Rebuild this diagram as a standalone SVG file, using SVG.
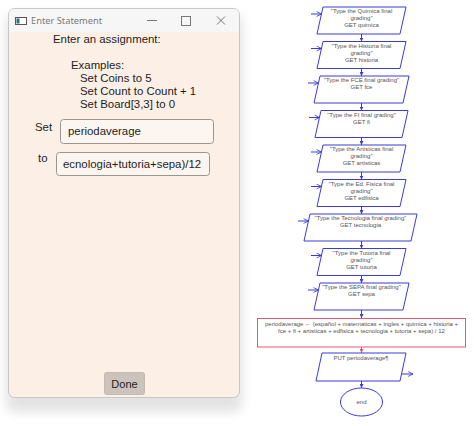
<svg xmlns="http://www.w3.org/2000/svg" width="474" height="426" viewBox="0 0 474 426">
<defs>
<style>
.ui{font-family:"Liberation Sans",Arial,sans-serif;fill:#1e1e1e;font-size:11.4px}
.fc{font-family:"Liberation Sans",Arial,sans-serif;font-size:6px;fill:#555;text-anchor:middle}
.para{fill:#fff;stroke:#3b3bd9;stroke-width:1}
.conn{stroke:#3b3bd9;stroke-width:1;fill:none}
.sel{stroke:#e8566c;stroke-width:1;fill:none}
.inp{fill:#fcf5f0;stroke:#9a9590;stroke-width:1}
</style>
<marker id="ah" viewBox="0 0 6 6" refX="6" refY="3" markerWidth="4" markerHeight="4" orient="auto">
<path d="M0,0 L6,3 L0,6 z" fill="#3b3bd9"/>
</marker>
<marker id="ahr" viewBox="0 0 6 6" refX="6" refY="3" markerWidth="4" markerHeight="4" orient="auto">
<path d="M0,0 L6,3 L0,6 z" fill="#e8566c"/>
</marker>
<marker id="open" viewBox="0 0 8 8" refX="7.5" refY="4" markerWidth="6" markerHeight="6" orient="auto" markerUnits="userSpaceOnUse">
<path d="M1,0.8 L7.5,4 L1,7.2" fill="none" stroke="#3b3bd9" stroke-width="1.1"/>
</marker>
<filter id="shadow" x="-20%" y="-20%" width="140%" height="140%">
<feGaussianBlur stdDeviation="6"/>
</filter>
</defs>
<rect width="474" height="426" fill="#fff"/>

<g id="dialog">
<rect x="6" y="14" width="236" height="398" rx="8" fill="#000" opacity="0.11" filter="url(#shadow)"/>
<rect x="8.5" y="8.5" width="231" height="389" rx="6" fill="#fbefe6" stroke="#c9c5c2"/>
<path d="M9,32 V14.5 Q9,9 14.5,9 H233.5 Q239,9 239,14.5 V32 Z" fill="#f6f6f6"/>
<rect x="15.5" y="17.5" width="11" height="7" fill="#fff" stroke="#555" stroke-width="1"/>
<rect x="16.5" y="18.5" width="3" height="5" fill="#2f6f8f"/>
<text x="31" y="24" style="font-family:'Noto Sans','Liberation Sans',sans-serif;font-size:9.3px;fill:#7a7a7a">Enter Statement</text>
<line x1="147" y1="20.5" x2="157" y2="20.5" stroke="#777" stroke-width="1"/>
<rect x="181.5" y="16.5" width="9" height="9" fill="none" stroke="#777" stroke-width="1"/>
<path d="M217,16.5 L225,24.5 M225,16.5 L217,24.5" stroke="#777" stroke-width="1"/>
<text class="ui" x="53" y="43">Enter an assignment:</text>
<text class="ui" x="71" y="69">Examples:</text>
<text class="ui" x="80" y="82">Set Coins to 5</text>
<text class="ui" x="80" y="95">Set Count to Count + 1</text>
<text class="ui" x="80" y="108">Set Board[3,3] to 0</text>
<text class="ui" x="35" y="131">Set</text>
<rect class="inp" x="60.5" y="119.5" width="153" height="24" rx="3"/>
<text class="ui" x="68" y="135">periodaverage</text>
<text class="ui" x="38" y="162">to</text>
<rect class="inp" x="56.5" y="152.5" width="153" height="23" rx="3"/>
<text class="ui" x="63" y="168">ecnologia+tutoria+sepa)/12</text>
<rect x="104.5" y="372.5" width="40" height="22" rx="2" fill="#cdc3bd" stroke="#c4bab4"/>
<text class="ui" x="124.5" y="387.5" text-anchor="middle" style="font-size:11px">Done</text>
</g>

<g id="connectors">
<line class="conn" x1="361.5" y1="34" x2="361.5" y2="41.5" marker-end="url(#ah)"/>
<line class="conn" x1="361.5" y1="68.5" x2="361.5" y2="76" marker-end="url(#ah)"/>
<line class="conn" x1="361.5" y1="103" x2="361.5" y2="110.5" marker-end="url(#ah)"/>
<line class="conn" x1="361.5" y1="137.5" x2="361.5" y2="145" marker-end="url(#ah)"/>
<line class="conn" x1="361.5" y1="172" x2="361.5" y2="179.5" marker-end="url(#ah)"/>
<line class="conn" x1="361.5" y1="206.5" x2="361.5" y2="214" marker-end="url(#ah)"/>
<line class="conn" x1="361.5" y1="241" x2="361.5" y2="248.5" marker-end="url(#ah)"/>
<line class="conn" x1="361.5" y1="275.5" x2="361.5" y2="283" marker-end="url(#ah)"/>
<line class="conn" x1="361.5" y1="310" x2="361.5" y2="318" marker-end="url(#ah)"/>
<line class="sel" x1="361.5" y1="347" x2="361.5" y2="353" marker-end="url(#ahr)"/>
<line class="conn" x1="361.5" y1="381" x2="361.5" y2="388" marker-end="url(#ah)"/>
<line class="conn" x1="311" y1="14" x2="321.5" y2="14" marker-end="url(#open)"/>
<line class="conn" x1="311" y1="48.5" x2="321.5" y2="48.5" marker-end="url(#open)"/>
<line class="conn" x1="308" y1="83" x2="318.5" y2="83" marker-end="url(#open)"/>
<line class="conn" x1="309" y1="117.5" x2="319.5" y2="117.5" marker-end="url(#open)"/>
<line class="conn" x1="311" y1="152" x2="321.5" y2="152" marker-end="url(#open)"/>
<line class="conn" x1="311" y1="186.5" x2="321.5" y2="186.5" marker-end="url(#open)"/>
<line class="conn" x1="298" y1="221" x2="308.5" y2="221" marker-end="url(#open)"/>
<line class="conn" x1="311" y1="255.5" x2="321.5" y2="255.5" marker-end="url(#open)"/>
<line class="conn" x1="308" y1="290" x2="318.5" y2="290" marker-end="url(#open)"/>
<line class="conn" x1="401.5" y1="374" x2="413" y2="374" marker-end="url(#open)"/>
</g>

<g id="in-quimica">
<polygon class="para" points="323,7 406,7 400,34 317,34"/>
<text class="fc" x="361.5" y="13">"Type the Quimica final</text>
<text class="fc" x="361.5" y="20">grading"</text>
<text class="fc" x="361.5" y="27">GET quimica</text>
</g>
<g id="in-historia">
<polygon class="para" points="323,41.5 406,41.5 400,68.5 317,68.5"/>
<text class="fc" x="361.5" y="47.5">"Type the Historia final</text>
<text class="fc" x="361.5" y="54.5">grading"</text>
<text class="fc" x="361.5" y="61.5">GET historia</text>
</g>
<g id="in-fce">
<polygon class="para" points="320,76 409,76 403,103 314,103"/>
<text class="fc" x="361.5" y="82">"Type the FCE final grading"</text>
<text class="fc" x="361.5" y="89">GET fce</text>
</g>
<g id="in-fi">
<polygon class="para" points="321,110.5 408,110.5 402,137.5 315,137.5"/>
<text class="fc" x="361.5" y="116.5">"Type the FI final grading"</text>
<text class="fc" x="361.5" y="123.5">GET fi</text>
</g>
<g id="in-artisticas">
<polygon class="para" points="323,145 406,145 400,172 317,172"/>
<text class="fc" x="361.5" y="151">"Type the Artisticas final</text>
<text class="fc" x="361.5" y="158">grading"</text>
<text class="fc" x="361.5" y="165">GET artisticas</text>
</g>
<g id="in-edfisica">
<polygon class="para" points="323,179.5 406,179.5 400,206.5 317,206.5"/>
<text class="fc" x="361.5" y="185.5">"Type the Ed. Fisica final</text>
<text class="fc" x="361.5" y="192.5">grading"</text>
<text class="fc" x="361.5" y="199.5">GET edfisica</text>
</g>
<g id="in-tecnologia">
<polygon class="para" points="310,214 417,214 411,241 304,241"/>
<text class="fc" x="360.5" y="220">"Type the Tecnologia final grading"</text>
<text class="fc" x="360.5" y="227">GET tecnologia</text>
</g>
<g id="in-tutoria">
<polygon class="para" points="323,248.5 406,248.5 400,275.5 317,275.5"/>
<text class="fc" x="361.5" y="254.5">"Type the Tutoria final</text>
<text class="fc" x="361.5" y="261.5">grading"</text>
<text class="fc" x="361.5" y="268.5">GET tutoria</text>
</g>
<g id="in-sepa">
<polygon class="para" points="320,283 409,283 403,310 314,310"/>
<text class="fc" x="361.5" y="289">"Type the SEPA final grading"</text>
<text class="fc" x="361.5" y="296">GET sepa</text>
</g>
<g id="assign">
<rect x="257.5" y="318.5" width="208" height="28.5" fill="#fff" stroke="#e8566c" stroke-width="1"/>
<text class="fc" x="361.5" y="325.5">periodaverage ← (español + matematicas + ingles + quimica + historia +</text>
<text class="fc" x="361.5" y="333">fce + fi + artisticas + edfisica + tecnologia + tutoria + sepa) / 12</text>
</g>
<g id="out-period">
<polygon class="para" points="322,353 406,353 400,381 316,381"/>
<text class="fc" x="361" y="359.5">PUT periodaverage¶</text>
</g>
<g id="end">
<ellipse cx="361.5" cy="402" rx="21" ry="14" fill="#fff" stroke="#3b3bd9" stroke-width="1"/>
<text class="fc" x="361.5" y="404">end</text>
</g>
</svg>
